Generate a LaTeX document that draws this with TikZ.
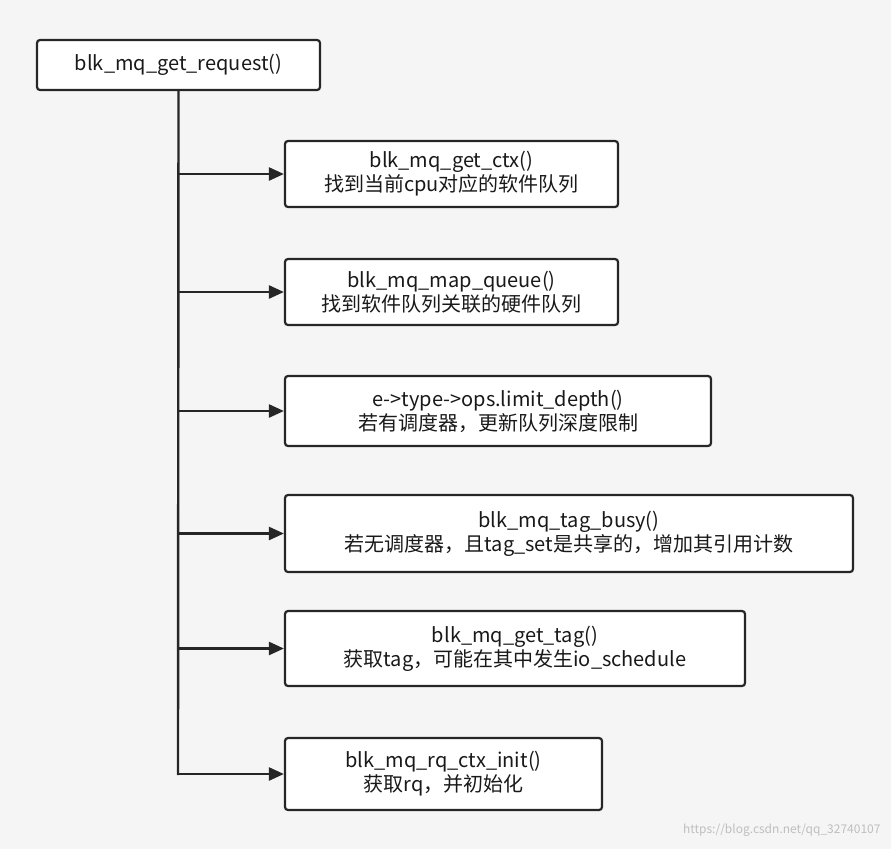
\documentclass[tikz,border=0pt]{standalone}
\usepackage{fontspec}
\setmainfont{Noto Sans CJK SC}
\usetikzlibrary{arrows.meta}
\begin{document}
\begin{tikzpicture}[x=1pt,y=-1pt,
  box/.style={draw=black!85,line width=2.2pt,fill=white,rounded corners=3pt,align=center,inner sep=0pt,font=\fontsize{20}{24}\selectfont,text=black!90},
  conn/.style={draw=black!85,line width=2.4pt,-{Triangle[length=15pt,width=13pt]}}]
\fill[black!4] (0,0) rectangle (891,849);
\useasboundingbox (0,0) rectangle (891,849);
\node[box,minimum width=283pt,minimum height=50pt] (root) at (178.5,65) {blk\_mq\_get\_request()};
\node[box,minimum width=333pt,minimum height=66pt] (b1) at (451.5,174) {blk\_mq\_get\_ctx()\\找到当前cpu对应的软件队列};
\node[box,minimum width=333pt,minimum height=66pt] (b2) at (451.5,292) {blk\_mq\_map\_queue()\\找到软件队列关联的硬件队列};
\node[box,minimum width=426pt,minimum height=70pt] (b3) at (498,411) {e->type->ops.limit\_depth()\\若有调度器，更新队列深度限制};
\node[box,minimum width=568pt,minimum height=77pt] (b4) at (569,533.5) {blk\_mq\_tag\_busy()\\若无调度器，且tag\_set是共享的，增加其引用计数};
\node[box,minimum width=460pt,minimum height=75pt] (b5) at (515,648.5) {blk\_mq\_get\_tag()\\获取tag，可能在其中发生io\_schedule};
\node[box,minimum width=317pt,minimum height=72pt] (b6) at (443.5,774) {blk\_mq\_rq\_ctx\_init()\\获取rq，并初始化};
\coordinate (bot) at (178,774);
\draw[draw=black!85,line width=2.4pt,line cap=rect] (root.south) -- (bot);
\foreach \n in {b1,b2,b3,b4,b5,b6}{
  \draw[conn] (178,0 |- \n.west) -- (\n.west);
}
\node[text=black!25,font=\fontsize{12}{14}\selectfont,anchor=east] (wm) at (884,830) {https://blog.csdn.net/qq\_32740107};
\end{tikzpicture}
\end{document}
